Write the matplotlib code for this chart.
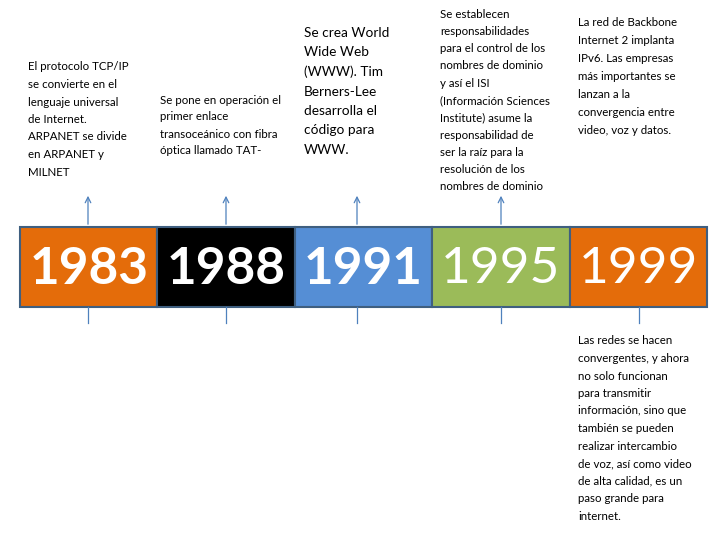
import matplotlib.pyplot as plt
from matplotlib.patches import Rectangle

# Datos de la línea de tiempo
years = ["1983", "1988", "1991", "1995", "1999"]
box_colors = ["#E46C0A", "#000000", "#558ED5", "#9BBB59", "#E46C0A"]
bold_year = [True, True, True, False, False]
arrow_x = [88, 226, 357, 501, None]
below_x = [88, 226, 357, 501, 639]

texts_top = [
    ["El protocolo TCP/IP", "se convierte en el", "lenguaje universal", "de Internet.",
     "ARPANET se divide", "en ARPANET y", "MILNET"],
    ["Se pone en operación el", "primer enlace", "transoceánico con fibra", "óptica llamado TAT-"],
    ["Se crea World", "Wide Web", "(WWW). Tim", "Berners-Lee", "desarrolla el",
     "código para", "WWW."],
    ["Se establecen", "responsabilidades", "para el control de los", "nombres de dominio",
     "y así el ISI", "(Información Sciences", "Institute) asume la", "responsabilidad de",
     "ser la raíz para la", "resolución de los", "nombres de dominio"],
    ["La red de Backbone", "Internet 2 implanta", "IPv6. Las empresas", "más importantes se",
     "lanzan a la", "convergencia entre", "video, voz y datos."],
]
text_bottom_1999 = ["Las redes se hacen", "convergentes, y ahora", "no solo funcionan",
                    "para transmitir", "información, sino que", "también se pueden",
                    "realizar intercambio", "de voz, así como video", "de alta calidad, es un",
                    "paso grande para", "internet."]

fig = plt.figure(figsize=(7.28, 5.46), dpi=100)
ax = fig.add_axes([0, 0, 1, 1])
ax.set_xlim(0, 728)
ax.set_ylim(546, 0)
ax.axis("off")

font = "Lato"
line_col = "#4F81BD"
edge_col = "#3F5F80"

# Cajas con años
x0, w, y0, h = 20, 137.4, 227, 80
for i, (yr, col) in enumerate(zip(years, box_colors)):
    xl = x0 + i * w
    ax.add_patch(Rectangle((xl, y0), w, h, facecolor=col, edgecolor=edge_col, lw=1.5))
    ax.text(xl + w / 2, y0 + h / 2 + 2, yr, ha="center", va="center", color="white",
            fontsize=37, fontweight="bold" if bold_year[i] else "normal", family=font)

# Flechas y líneas
for xa in arrow_x:
    if xa is not None:
        ax.annotate("", xy=(xa, 193), xytext=(xa, y0),
                    arrowprops=dict(arrowstyle="->", color=line_col, lw=0.9))
for xb in below_x:
    ax.plot([xb, xb], [y0 + h, 323], color=line_col, lw=0.9)

# Textos
pos = [(28, 67, 17.5, 8.3), (160, 100, 17, 8.3), (304, 33, 19.5, 9.8),
       (440, 14, 17.3, 8.3), (578, 22, 18, 8.3)]
for lines, (tx, ty, sp, fs) in zip(texts_top, pos):
    for k, ln in enumerate(lines):
        ax.text(tx, ty + k * sp, ln, ha="left", va="center", fontsize=fs, family=font)
for k, ln in enumerate(text_bottom_1999):
    ax.text(578, 341 + k * 17.5, ln, ha="left", va="center", fontsize=8.3, family=font)

fig.savefig("out.png", dpi=100)
